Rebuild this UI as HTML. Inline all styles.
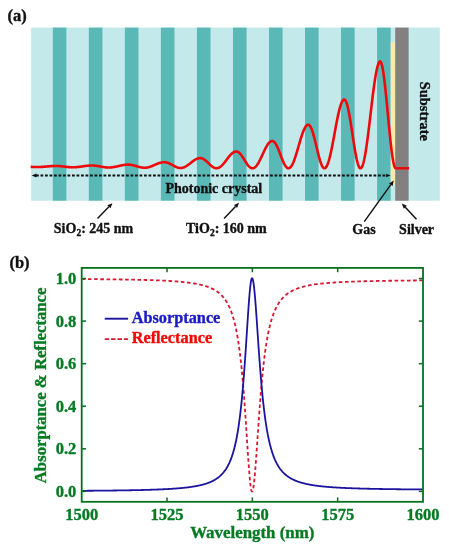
<!DOCTYPE html><html><head><meta charset="utf-8"><style>html,body{margin:0;padding:0;background:#fff;}svg{display:block;}text{font-family:"Liberation Serif","Times New Roman",serif;font-weight:bold;stroke:currentColor;stroke-width:0.35px;}</style></head><body>
<svg width="449" height="550" viewBox="0 0 449 550">
<rect x="0" y="0" width="449" height="550" fill="#fff"/>
<text x="7.6" y="20.7" font-size="16.5" fill="#111" color="#111">(a)</text>
<rect x="31.1" y="27.6" width="408.70" height="173.10" fill="#c3e9eb"/>
<rect x="52.80" y="27.6" width="13.6" height="173.10" fill="#5ab9b7"/>
<rect x="88.83" y="27.6" width="13.6" height="173.10" fill="#5ab9b7"/>
<rect x="124.86" y="27.6" width="13.6" height="173.10" fill="#5ab9b7"/>
<rect x="160.89" y="27.6" width="13.6" height="173.10" fill="#5ab9b7"/>
<rect x="196.92" y="27.6" width="13.6" height="173.10" fill="#5ab9b7"/>
<rect x="232.95" y="27.6" width="13.6" height="173.10" fill="#5ab9b7"/>
<rect x="268.98" y="27.6" width="13.6" height="173.10" fill="#5ab9b7"/>
<rect x="305.01" y="27.6" width="13.6" height="173.10" fill="#5ab9b7"/>
<rect x="341.04" y="27.6" width="13.6" height="173.10" fill="#5ab9b7"/>
<rect x="377.07" y="27.6" width="13.6" height="173.10" fill="#5ab9b7"/>
<rect x="390.75" y="42" width="4.45" height="142.6" fill="#fde7ab"/>
<rect x="395.2" y="27.6" width="13.4" height="173.10" fill="#828080"/>
<text transform="translate(419.7,81.8) rotate(90)" font-size="14.4" fill="#111" color="#111">Substrate</text>
<line x1="36" y1="175.5" x2="386.5" y2="175.5" stroke="#111" stroke-width="1.9" stroke-dasharray="2.8 1.7"/>
<path d="M31.6,175.5 L36.5,173.6 L36.5,177.4 Z" fill="#111"/>
<path d="M390.5,175.5 L386.2,173.7 L386.2,177.3 Z" fill="#111"/>
<text x="165.4" y="192.5" font-size="14" fill="#111" color="#111">Photonic crystal</text>
<path d="M30.70,166.83 L31.20,166.86 L31.70,166.89 L32.20,166.91 L32.70,166.94 L33.20,166.96 L33.70,166.98 L34.20,167.00 L34.70,167.01 L35.20,167.02 L35.70,167.03 L36.20,167.04 L36.70,167.04 L37.20,167.04 L37.70,167.04 L38.20,167.03 L38.70,167.02 L39.20,167.01 L39.70,166.99 L40.20,166.97 L40.70,166.95 L41.20,166.92 L41.70,166.89 L42.20,166.86 L42.70,166.83 L43.20,166.79 L43.70,166.75 L44.20,166.71 L44.70,166.67 L45.20,166.63 L45.70,166.59 L46.20,166.54 L46.70,166.50 L47.20,166.45 L47.70,166.41 L48.20,166.37 L48.70,166.33 L49.20,166.28 L49.70,166.24 L50.20,166.21 L50.70,166.17 L51.20,166.14 L51.70,166.11 L52.20,166.08 L52.70,166.05 L53.20,166.03 L53.70,166.01 L54.20,165.99 L54.70,165.98 L55.20,165.97 L55.70,165.97 L56.20,165.97 L56.70,165.98 L57.20,165.99 L57.70,166.00 L58.20,166.03 L58.70,166.05 L59.20,166.08 L59.70,166.12 L60.20,166.16 L60.70,166.21 L61.20,166.25 L61.70,166.31 L62.20,166.36 L62.70,166.42 L63.20,166.48 L63.70,166.54 L64.20,166.60 L64.70,166.66 L65.20,166.72 L65.70,166.78 L66.20,166.84 L66.70,166.89 L67.20,166.95 L67.70,167.00 L68.20,167.05 L68.70,167.09 L69.20,167.13 L69.70,167.17 L70.20,167.20 L70.70,167.23 L71.20,167.25 L71.70,167.26 L72.20,167.27 L72.70,167.28 L73.20,167.28 L73.70,167.27 L74.20,167.25 L74.70,167.24 L75.20,167.21 L75.70,167.18 L76.20,167.15 L76.70,167.11 L77.20,167.06 L77.70,167.01 L78.20,166.96 L78.70,166.90 L79.20,166.84 L79.70,166.78 L80.20,166.71 L80.70,166.64 L81.20,166.57 L81.70,166.50 L82.20,166.43 L82.70,166.36 L83.20,166.29 L83.70,166.22 L84.20,166.15 L84.70,166.08 L85.20,166.01 L85.70,165.95 L86.20,165.88 L86.70,165.83 L87.20,165.77 L87.70,165.72 L88.20,165.68 L88.70,165.63 L89.20,165.60 L89.70,165.57 L90.20,165.54 L90.70,165.52 L91.20,165.51 L91.70,165.50 L92.20,165.50 L92.70,165.51 L93.20,165.53 L93.70,165.55 L94.20,165.58 L94.70,165.62 L95.20,165.67 L95.70,165.73 L96.20,165.79 L96.70,165.86 L97.20,165.94 L97.70,166.02 L98.20,166.10 L98.70,166.19 L99.20,166.28 L99.70,166.37 L100.20,166.47 L100.70,166.56 L101.20,166.66 L101.70,166.75 L102.20,166.84 L102.70,166.93 L103.20,167.01 L103.70,167.09 L104.20,167.17 L104.70,167.24 L105.20,167.30 L105.70,167.35 L106.20,167.40 L106.70,167.44 L107.20,167.47 L107.70,167.49 L108.20,167.51 L108.70,167.51 L109.20,167.51 L109.70,167.49 L110.20,167.47 L110.70,167.44 L111.20,167.40 L111.70,167.35 L112.20,167.29 L112.70,167.23 L113.20,167.15 L113.70,167.07 L114.20,166.99 L114.70,166.90 L115.20,166.80 L115.70,166.70 L116.20,166.59 L116.70,166.48 L117.20,166.37 L117.70,166.26 L118.20,166.14 L118.70,166.02 L119.20,165.91 L119.70,165.79 L120.20,165.68 L120.70,165.57 L121.20,165.46 L121.70,165.36 L122.20,165.26 L122.70,165.17 L123.20,165.08 L123.70,165.00 L124.20,164.92 L124.70,164.86 L125.20,164.80 L125.70,164.75 L126.20,164.71 L126.70,164.68 L127.20,164.65 L127.70,164.64 L128.20,164.64 L128.70,164.64 L129.20,164.66 L129.70,164.70 L130.20,164.75 L130.70,164.81 L131.20,164.88 L131.70,164.97 L132.20,165.06 L132.70,165.17 L133.20,165.28 L133.70,165.41 L134.20,165.54 L134.70,165.67 L135.20,165.82 L135.70,165.96 L136.20,166.11 L136.70,166.26 L137.20,166.40 L137.70,166.55 L138.20,166.69 L138.70,166.83 L139.20,166.97 L139.70,167.09 L140.20,167.21 L140.70,167.32 L141.20,167.42 L141.70,167.50 L142.20,167.58 L142.70,167.64 L143.20,167.69 L143.70,167.72 L144.20,167.74 L144.70,167.74 L145.20,167.73 L145.70,167.70 L146.20,167.66 L146.70,167.60 L147.20,167.52 L147.70,167.43 L148.20,167.32 L148.70,167.19 L149.20,167.06 L149.70,166.90 L150.20,166.74 L150.70,166.57 L151.20,166.38 L151.70,166.19 L152.20,165.99 L152.70,165.78 L153.20,165.56 L153.70,165.35 L154.20,165.12 L154.70,164.90 L155.20,164.68 L155.70,164.46 L156.20,164.24 L156.70,164.03 L157.20,163.82 L157.70,163.62 L158.20,163.43 L158.70,163.25 L159.20,163.07 L159.70,162.91 L160.20,162.77 L160.70,162.64 L161.20,162.52 L161.70,162.42 L162.20,162.33 L162.70,162.26 L163.20,162.21 L163.70,162.18 L164.20,162.17 L164.70,162.18 L165.20,162.22 L165.70,162.29 L166.20,162.38 L166.70,162.49 L167.20,162.63 L167.70,162.79 L168.20,162.97 L168.70,163.17 L169.20,163.38 L169.70,163.61 L170.20,163.86 L170.70,164.12 L171.20,164.38 L171.70,164.66 L172.20,164.93 L172.70,165.21 L173.20,165.49 L173.70,165.76 L174.20,166.03 L174.70,166.29 L175.20,166.54 L175.70,166.77 L176.20,166.99 L176.70,167.20 L177.20,167.38 L177.70,167.54 L178.20,167.68 L178.70,167.79 L179.20,167.88 L179.70,167.94 L180.20,167.97 L180.70,167.98 L181.20,167.95 L181.70,167.90 L182.20,167.82 L182.70,167.71 L183.20,167.57 L183.70,167.40 L184.20,167.20 L184.70,166.98 L185.20,166.73 L185.70,166.46 L186.20,166.17 L186.70,165.86 L187.20,165.53 L187.70,165.19 L188.20,164.83 L188.70,164.46 L189.20,164.08 L189.70,163.70 L190.20,163.30 L190.70,162.91 L191.20,162.52 L191.70,162.13 L192.20,161.74 L192.70,161.37 L193.20,161.00 L193.70,160.65 L194.20,160.31 L194.70,159.99 L195.20,159.69 L195.70,159.41 L196.20,159.15 L196.70,158.92 L197.20,158.71 L197.70,158.53 L198.20,158.38 L198.70,158.27 L199.20,158.18 L199.70,158.12 L200.20,158.10 L200.70,158.12 L201.20,158.19 L201.70,158.30 L202.20,158.46 L202.70,158.66 L203.20,158.90 L203.70,159.18 L204.20,159.49 L204.70,159.84 L205.20,160.22 L205.70,160.63 L206.20,161.06 L206.70,161.50 L207.20,161.97 L207.70,162.45 L208.20,162.93 L208.70,163.41 L209.20,163.90 L209.70,164.38 L210.20,164.84 L210.70,165.29 L211.20,165.72 L211.70,166.13 L212.20,166.51 L212.70,166.86 L213.20,167.18 L213.70,167.46 L214.20,167.70 L214.70,167.89 L215.20,168.04 L215.70,168.15 L216.20,168.20 L216.70,168.21 L217.20,168.17 L217.70,168.08 L218.20,167.93 L218.70,167.74 L219.20,167.50 L219.70,167.22 L220.20,166.88 L220.70,166.51 L221.20,166.09 L221.70,165.63 L222.20,165.14 L222.70,164.61 L223.20,164.06 L223.70,163.47 L224.20,162.87 L224.70,162.24 L225.20,161.60 L225.70,160.95 L226.20,160.29 L226.70,159.63 L227.20,158.96 L227.70,158.31 L228.20,157.66 L228.70,157.02 L229.20,156.41 L229.70,155.81 L230.20,155.24 L230.70,154.70 L231.20,154.18 L231.70,153.71 L232.20,153.27 L232.70,152.88 L233.20,152.53 L233.70,152.23 L234.20,151.98 L234.70,151.78 L235.20,151.63 L235.70,151.53 L236.20,151.49 L236.70,151.53 L237.20,151.64 L237.70,151.82 L238.20,152.08 L238.70,152.41 L239.20,152.81 L239.70,153.28 L240.20,153.80 L240.70,154.38 L241.20,155.01 L241.70,155.69 L242.20,156.41 L242.70,157.16 L243.20,157.93 L243.70,158.73 L244.20,159.53 L244.70,160.34 L245.20,161.15 L245.70,161.95 L246.20,162.72 L246.70,163.47 L247.20,164.19 L247.70,164.87 L248.20,165.50 L248.70,166.08 L249.20,166.61 L249.70,167.07 L250.20,167.46 L250.70,167.78 L251.20,168.03 L251.70,168.20 L252.20,168.29 L252.70,168.29 L253.20,168.22 L253.70,168.06 L254.20,167.83 L254.70,167.51 L255.20,167.11 L255.70,166.64 L256.20,166.09 L256.70,165.47 L257.20,164.79 L257.70,164.04 L258.20,163.23 L258.70,162.37 L259.20,161.45 L259.70,160.50 L260.20,159.51 L260.70,158.48 L261.20,157.43 L261.70,156.37 L262.20,155.29 L262.70,154.20 L263.20,153.12 L263.70,152.05 L264.20,150.99 L264.70,149.95 L265.20,148.94 L265.70,147.97 L266.20,147.04 L266.70,146.16 L267.20,145.33 L267.70,144.56 L268.20,143.86 L268.70,143.22 L269.20,142.66 L269.70,142.17 L270.20,141.76 L270.70,141.44 L271.20,141.20 L271.70,141.05 L272.20,140.99 L272.70,141.05 L273.20,141.23 L273.70,141.53 L274.20,141.95 L274.70,142.49 L275.20,143.14 L275.70,143.90 L276.20,144.75 L276.70,145.70 L277.20,146.73 L277.70,147.83 L278.20,149.00 L278.70,150.21 L279.20,151.47 L279.70,152.76 L280.20,154.07 L280.70,155.39 L281.20,156.70 L281.70,157.99 L282.20,159.25 L282.70,160.47 L283.20,161.64 L283.70,162.74 L284.20,163.76 L284.70,164.71 L285.20,165.56 L285.70,166.30 L286.20,166.94 L286.70,167.46 L287.20,167.86 L287.70,168.13 L288.20,168.28 L288.70,168.29 L289.20,168.17 L289.70,167.92 L290.20,167.54 L290.70,167.03 L291.20,166.40 L291.70,165.64 L292.20,164.76 L292.70,163.78 L293.20,162.68 L293.70,161.48 L294.20,160.19 L294.70,158.81 L295.20,157.35 L295.70,155.82 L296.20,154.23 L296.70,152.60 L297.20,150.92 L297.70,149.21 L298.20,147.49 L298.70,145.75 L299.20,144.02 L299.70,142.31 L300.20,140.62 L300.70,138.96 L301.20,137.36 L301.70,135.81 L302.20,134.32 L302.70,132.92 L303.20,131.59 L303.70,130.37 L304.20,129.24 L304.70,128.23 L305.20,127.33 L305.70,126.56 L306.20,125.91 L306.70,125.39 L307.20,125.02 L307.70,124.78 L308.20,124.68 L308.70,124.78 L309.20,125.07 L309.70,125.56 L310.20,126.23 L310.70,127.10 L311.20,128.14 L311.70,129.35 L312.20,130.71 L312.70,132.22 L313.20,133.87 L313.70,135.63 L314.20,137.49 L314.70,139.43 L315.20,141.45 L315.70,143.51 L316.20,145.60 L316.70,147.70 L317.20,149.79 L317.70,151.85 L318.20,153.86 L318.70,155.81 L319.20,157.67 L319.70,159.43 L320.20,161.06 L320.70,162.57 L321.20,163.92 L321.70,165.11 L322.20,166.13 L322.70,166.96 L323.20,167.60 L323.70,168.03 L324.20,168.26 L324.70,168.28 L325.20,168.10 L325.70,167.70 L326.20,167.10 L326.70,166.30 L327.20,165.29 L327.70,164.10 L328.20,162.71 L328.70,161.15 L329.20,159.41 L329.70,157.52 L330.20,155.48 L330.70,153.30 L331.20,150.99 L331.70,148.58 L332.20,146.08 L332.70,143.49 L333.20,140.84 L333.70,138.15 L334.20,135.42 L334.70,132.69 L335.20,129.96 L335.70,127.25 L336.20,124.59 L336.70,121.98 L337.20,119.44 L337.70,116.99 L338.20,114.65 L338.70,112.43 L339.20,110.35 L339.70,108.42 L340.20,106.64 L340.70,105.05 L341.20,103.63 L341.70,102.41 L342.20,101.40 L342.70,100.59 L343.20,99.99 L343.70,99.62 L344.20,99.47 L344.70,99.63 L345.20,100.09 L345.70,100.87 L346.20,101.94 L346.70,103.30 L347.20,104.95 L347.70,106.86 L348.20,109.02 L348.70,111.40 L349.20,114.00 L349.70,116.78 L350.20,119.72 L350.70,122.79 L351.20,125.96 L351.70,129.21 L352.20,132.51 L352.70,135.82 L353.20,139.12 L353.70,142.37 L354.20,145.54 L354.70,148.61 L355.20,151.55 L355.70,154.32 L356.20,156.90 L356.70,159.27 L357.20,161.40 L357.70,163.28 L358.20,164.88 L358.70,166.19 L359.20,167.19 L359.70,167.88 L360.20,168.24 L360.70,168.27 L361.20,167.98 L361.70,167.37 L362.20,166.43 L362.70,165.18 L363.20,163.62 L363.70,161.75 L364.20,159.59 L364.70,157.16 L365.20,154.46 L365.70,151.51 L366.20,148.32 L366.70,144.93 L367.20,141.34 L367.70,137.59 L368.20,133.69 L368.70,129.66 L369.20,125.54 L369.70,121.35 L370.20,117.11 L370.70,112.86 L371.20,108.61 L371.70,104.40 L372.20,100.25 L372.70,96.19 L373.20,92.25 L373.70,88.44 L374.20,84.81 L374.70,81.36 L375.20,78.12 L375.70,75.12 L376.20,72.37 L376.70,69.89 L377.20,67.69 L377.70,65.80 L378.20,64.23 L378.70,62.97 L379.20,62.06 L379.70,61.48 L380.20,61.34 L380.70,61.82 L381.20,62.82 L381.70,64.33 L382.20,66.34 L382.70,68.83 L383.20,71.77 L383.70,75.14 L384.20,78.90 L384.70,83.01 L385.20,87.44 L385.70,92.14 L386.20,97.06 L386.70,102.16 L387.20,107.38 L387.70,112.67 L388.20,117.99 L388.70,123.27 L389.20,128.48 L389.70,133.54 L390.20,138.42 L390.70,143.07 L391.20,147.44 L391.70,151.49 L392.20,155.17 L392.70,158.45 L393.20,161.31 L393.70,163.70 L394.20,165.62 L394.70,167.03 L395.20,167.92 L395.70,168.29 L396.20,168.30 L396.70,168.30 L397.20,168.30 L397.70,168.30 L398.20,168.30 L398.70,168.30 L399.20,168.30 L399.70,168.30 L400.20,168.30 L400.70,168.30 L401.20,168.30 L401.70,168.30 L402.20,168.30 L402.70,168.30 L403.20,168.30 L403.70,168.30 L404.20,168.30 L404.70,168.30 L405.20,168.30 L405.70,168.30 L406.20,168.30 L406.70,168.30 L407.20,168.30 L407.70,168.30 L408.20,168.30 L408.70,168.30 L409.10,168.30" fill="none" stroke="#ee0a0a" stroke-width="2.6" stroke-linejoin="round" stroke-linecap="butt"/>
<line x1="97.5" y1="218.4" x2="108.9" y2="206.8" stroke="#111" stroke-width="1.45"/><path d="M112.4,203.2 L110.5,208.3 L107.3,205.2 Z" fill="#111"/>
<line x1="224.1" y1="218.4" x2="235.5" y2="206.4" stroke="#111" stroke-width="1.45"/><path d="M239.0,202.8 L237.1,207.9 L234.0,204.9 Z" fill="#111"/>
<line x1="364.3" y1="221.7" x2="390.8" y2="184.7" stroke="#111" stroke-width="1.45"/><path d="M393.7,180.6 L392.6,185.9 L389.0,183.4 Z" fill="#111"/>
<line x1="416.5" y1="219.3" x2="405.3" y2="207.2" stroke="#111" stroke-width="1.45"/><path d="M401.9,203.5 L406.9,205.7 L403.7,208.7 Z" fill="#111"/>
<text x="53.8" y="233.0" font-size="14" fill="#111" color="#111">SiO<tspan font-size="9.5" dy="3">2</tspan><tspan dy="-3">: 245 nm</tspan></text>
<text x="186" y="233.0" font-size="14" fill="#111" color="#111">TiO<tspan font-size="9.5" dy="3">2</tspan><tspan dy="-3">: 160 nm</tspan></text>
<text x="352.3" y="233.7" font-size="14" fill="#111" color="#111">Gas</text>
<text x="399.1" y="233.7" font-size="14" fill="#111" color="#111">Silver</text>
<text x="9.4" y="267.7" font-size="16.5" fill="#111" color="#111">(b)</text>
<defs><clipPath id="cb"><rect x="82.5" y="268.5" width="340" height="232.5"/></clipPath></defs>
<path d="M81.70,279.08 L81.98,279.09 L82.27,279.09 L82.55,279.09 L82.84,279.09 L83.12,279.09 L83.41,279.10 L83.69,279.10 L83.98,279.10 L84.26,279.10 L84.54,279.10 L84.83,279.11 L85.11,279.11 L85.40,279.11 L85.68,279.11 L85.97,279.12 L86.25,279.12 L86.54,279.12 L86.82,279.12 L87.10,279.12 L87.39,279.13 L87.67,279.13 L87.96,279.13 L88.24,279.13 L88.53,279.13 L88.81,279.14 L89.09,279.14 L89.38,279.14 L89.66,279.14 L89.95,279.15 L90.23,279.15 L90.52,279.15 L90.80,279.15 L91.09,279.15 L91.37,279.16 L91.65,279.16 L91.94,279.16 L92.22,279.16 L92.51,279.17 L92.79,279.17 L93.08,279.17 L93.36,279.17 L93.65,279.18 L93.93,279.18 L94.21,279.18 L94.50,279.18 L94.78,279.19 L95.07,279.19 L95.35,279.19 L95.64,279.19 L95.92,279.20 L96.21,279.20 L96.49,279.20 L96.77,279.20 L97.06,279.21 L97.34,279.21 L97.63,279.21 L97.91,279.21 L98.20,279.22 L98.48,279.22 L98.77,279.22 L99.05,279.22 L99.33,279.23 L99.62,279.23 L99.90,279.23 L100.19,279.24 L100.47,279.24 L100.76,279.24 L101.04,279.24 L101.32,279.25 L101.61,279.25 L101.89,279.25 L102.18,279.25 L102.46,279.26 L102.75,279.26 L103.03,279.26 L103.32,279.27 L103.60,279.27 L103.88,279.27 L104.17,279.28 L104.45,279.28 L104.74,279.28 L105.02,279.28 L105.31,279.29 L105.59,279.29 L105.88,279.29 L106.16,279.30 L106.44,279.30 L106.73,279.30 L107.01,279.31 L107.30,279.31 L107.58,279.31 L107.87,279.32 L108.15,279.32 L108.44,279.32 L108.72,279.33 L109.00,279.33 L109.29,279.33 L109.57,279.34 L109.86,279.34 L110.14,279.34 L110.43,279.35 L110.71,279.35 L110.99,279.35 L111.28,279.36 L111.56,279.36 L111.85,279.36 L112.13,279.37 L112.42,279.37 L112.70,279.37 L112.99,279.38 L113.27,279.38 L113.55,279.38 L113.84,279.39 L114.12,279.39 L114.41,279.39 L114.69,279.40 L114.98,279.40 L115.26,279.41 L115.55,279.41 L115.83,279.41 L116.11,279.42 L116.40,279.42 L116.68,279.42 L116.97,279.43 L117.25,279.43 L117.54,279.44 L117.82,279.44 L118.11,279.44 L118.39,279.45 L118.67,279.45 L118.96,279.46 L119.24,279.46 L119.53,279.46 L119.81,279.47 L120.10,279.47 L120.38,279.48 L120.67,279.48 L120.95,279.49 L121.23,279.49 L121.52,279.49 L121.80,279.50 L122.09,279.50 L122.37,279.51 L122.66,279.51 L122.94,279.52 L123.22,279.52 L123.51,279.52 L123.79,279.53 L124.08,279.53 L124.36,279.54 L124.65,279.54 L124.93,279.55 L125.22,279.55 L125.50,279.56 L125.78,279.56 L126.07,279.57 L126.35,279.57 L126.64,279.58 L126.92,279.58 L127.21,279.59 L127.49,279.59 L127.78,279.60 L128.06,279.60 L128.34,279.61 L128.63,279.61 L128.91,279.62 L129.20,279.62 L129.48,279.63 L129.77,279.63 L130.05,279.64 L130.34,279.64 L130.62,279.65 L130.90,279.65 L131.19,279.66 L131.47,279.66 L131.76,279.67 L132.04,279.67 L132.33,279.68 L132.61,279.69 L132.90,279.69 L133.18,279.70 L133.46,279.70 L133.75,279.71 L134.03,279.71 L134.32,279.72 L134.60,279.73 L134.89,279.73 L135.17,279.74 L135.45,279.74 L135.74,279.75 L136.02,279.76 L136.31,279.76 L136.59,279.77 L136.88,279.78 L137.16,279.78 L137.45,279.79 L137.73,279.79 L138.01,279.80 L138.30,279.81 L138.58,279.81 L138.87,279.82 L139.15,279.83 L139.44,279.83 L139.72,279.84 L140.01,279.85 L140.29,279.85 L140.57,279.86 L140.86,279.87 L141.14,279.87 L141.43,279.88 L141.71,279.89 L142.00,279.90 L142.28,279.90 L142.57,279.91 L142.85,279.92 L143.13,279.92 L143.42,279.93 L143.70,279.94 L143.99,279.95 L144.27,279.95 L144.56,279.96 L144.84,279.97 L145.12,279.98 L145.41,279.99 L145.69,279.99 L145.98,280.00 L146.26,280.01 L146.55,280.02 L146.83,280.03 L147.12,280.03 L147.40,280.04 L147.68,280.05 L147.97,280.06 L148.25,280.07 L148.54,280.08 L148.82,280.08 L149.11,280.09 L149.39,280.10 L149.68,280.11 L149.96,280.12 L150.24,280.13 L150.53,280.14 L150.81,280.15 L151.10,280.16 L151.38,280.17 L151.67,280.18 L151.95,280.18 L152.24,280.19 L152.52,280.20 L152.80,280.21 L153.09,280.22 L153.37,280.23 L153.66,280.24 L153.94,280.25 L154.23,280.26 L154.51,280.27 L154.80,280.28 L155.08,280.29 L155.36,280.30 L155.65,280.32 L155.93,280.33 L156.22,280.34 L156.50,280.35 L156.79,280.36 L157.07,280.37 L157.35,280.38 L157.64,280.39 L157.92,280.40 L158.21,280.41 L158.49,280.43 L158.78,280.44 L159.06,280.45 L159.35,280.46 L159.63,280.47 L159.91,280.49 L160.20,280.50 L160.48,280.51 L160.77,280.52 L161.05,280.53 L161.34,280.55 L161.62,280.56 L161.91,280.57 L162.19,280.59 L162.47,280.60 L162.76,280.61 L163.04,280.63 L163.33,280.64 L163.61,280.65 L163.90,280.67 L164.18,280.68 L164.47,280.69 L164.75,280.71 L165.03,280.72 L165.32,280.74 L165.60,280.75 L165.89,280.77 L166.17,280.78 L166.46,280.80 L166.74,280.81 L167.03,280.83 L167.31,280.84 L167.59,280.86 L167.88,280.87 L168.16,280.89 L168.45,280.91 L168.73,280.92 L169.02,280.94 L169.30,280.96 L169.58,280.97 L169.87,280.99 L170.15,281.01 L170.44,281.02 L170.72,281.04 L171.01,281.06 L171.29,281.08 L171.58,281.09 L171.86,281.11 L172.14,281.13 L172.43,281.15 L172.71,281.17 L173.00,281.19 L173.28,281.21 L173.57,281.23 L173.85,281.25 L174.14,281.27 L174.42,281.29 L174.70,281.31 L174.99,281.33 L175.27,281.35 L175.56,281.37 L175.84,281.39 L176.13,281.41 L176.41,281.43 L176.70,281.45 L176.98,281.48 L177.26,281.50 L177.55,281.52 L177.83,281.54 L178.12,281.57 L178.40,281.59 L178.69,281.61 L178.97,281.64 L179.25,281.66 L179.54,281.69 L179.82,281.71 L180.11,281.74 L180.39,281.76 L180.68,281.79 L180.96,281.81 L181.25,281.84 L181.53,281.87 L181.81,281.89 L182.10,281.92 L182.38,281.95 L182.67,281.98 L182.95,282.00 L183.24,282.03 L183.52,282.06 L183.81,282.09 L184.09,282.12 L184.37,282.15 L184.66,282.18 L184.94,282.21 L185.23,282.24 L185.51,282.27 L185.80,282.31 L186.08,282.34 L186.37,282.37 L186.65,282.40 L186.93,282.44 L187.22,282.47 L187.50,282.51 L187.79,282.54 L188.07,282.58 L188.36,282.61 L188.64,282.65 L188.93,282.68 L189.21,282.72 L189.49,282.76 L189.78,282.80 L190.06,282.84 L190.35,282.88 L190.63,282.92 L190.92,282.96 L191.20,283.00 L191.48,283.04 L191.77,283.08 L192.05,283.12 L192.34,283.17 L192.62,283.21 L192.91,283.25 L193.19,283.30 L193.48,283.34 L193.76,283.39 L194.04,283.44 L194.33,283.49 L194.61,283.53 L194.90,283.58 L195.18,283.63 L195.47,283.68 L195.75,283.73 L196.04,283.79 L196.32,283.84 L196.60,283.89 L196.89,283.95 L197.17,284.00 L197.46,284.06 L197.74,284.11 L198.03,284.17 L198.31,284.23 L198.60,284.29 L198.88,284.35 L199.16,284.41 L199.45,284.47 L199.73,284.54 L200.02,284.60 L200.30,284.67 L200.59,284.73 L200.87,284.80 L201.16,284.87 L201.44,284.94 L201.72,285.01 L202.01,285.08 L202.29,285.15 L202.58,285.23 L202.86,285.30 L203.15,285.38 L203.43,285.46 L203.71,285.54 L204.00,285.62 L204.28,285.70 L204.57,285.79 L204.85,285.87 L205.14,285.96 L205.42,286.05 L205.71,286.13 L205.99,286.23 L206.27,286.32 L206.56,286.41 L206.84,286.51 L207.13,286.61 L207.41,286.71 L207.70,286.81 L207.98,286.91 L208.27,287.02 L208.55,287.12 L208.83,287.23 L209.12,287.34 L209.40,287.46 L209.69,287.57 L209.97,287.69 L210.26,287.81 L210.54,287.93 L210.83,288.06 L211.11,288.18 L211.39,288.31 L211.68,288.45 L211.96,288.58 L212.25,288.72 L212.53,288.86 L212.82,289.00 L213.10,289.15 L213.38,289.30 L213.67,289.45 L213.95,289.61 L214.24,289.77 L214.52,289.93 L214.81,290.09 L215.09,290.26 L215.38,290.44 L215.66,290.61 L215.94,290.79 L216.23,290.98 L216.51,291.17 L216.80,291.36 L217.08,291.56 L217.37,291.76 L217.65,291.96 L217.94,292.17 L218.22,292.39 L218.50,292.61 L218.79,292.84 L219.07,293.07 L219.36,293.30 L219.64,293.55 L219.93,293.80 L220.21,294.05 L220.50,294.31 L220.78,294.58 L221.06,294.85 L221.35,295.13 L221.63,295.42 L221.92,295.71 L222.20,296.02 L222.49,296.33 L222.77,296.64 L223.06,296.97 L223.34,297.31 L223.62,297.65 L223.91,298.00 L224.19,298.37 L224.48,298.74 L224.76,299.12 L225.05,299.52 L225.33,299.92 L225.61,300.34 L225.90,300.76 L226.18,301.20 L226.47,301.66 L226.75,302.12 L227.04,302.60 L227.32,303.09 L227.61,303.60 L227.89,304.12 L228.17,304.66 L228.46,305.22 L228.74,305.79 L229.03,306.38 L229.31,306.98 L229.60,307.61 L229.88,308.26 L230.17,308.92 L230.45,309.61 L230.73,310.32 L231.02,311.06 L231.30,311.81 L231.59,312.60 L231.87,313.40 L232.16,314.24 L232.44,315.10 L232.73,316.00 L233.01,316.92 L233.29,317.88 L233.58,318.87 L233.86,319.89 L234.15,320.95 L234.43,322.05 L234.72,323.19 L235.00,324.36 L235.29,325.59 L235.57,326.85 L235.85,328.16 L236.14,329.52 L236.42,330.93 L236.71,332.40 L236.99,333.92 L237.28,335.49 L237.56,337.13 L237.84,338.82 L238.13,340.59 L238.41,342.41 L238.70,344.31 L238.98,346.28 L239.27,348.33 L239.55,350.45 L239.84,352.66 L240.12,354.95 L240.40,357.33 L240.69,359.79 L240.97,362.35 L241.26,365.00 L241.54,367.76 L241.83,370.61 L242.11,373.56 L242.40,376.62 L242.68,379.78 L242.96,383.05 L243.25,386.43 L243.53,389.92 L243.82,393.51 L244.10,397.21 L244.39,401.01 L244.67,404.92 L244.96,408.91 L245.24,413.00 L245.52,417.17 L245.81,421.41 L246.09,425.71 L246.38,430.06 L246.66,434.44 L246.95,438.84 L247.23,443.24 L247.51,447.62 L247.80,451.94 L248.08,456.20 L248.37,460.35 L248.65,464.38 L248.94,468.24 L249.22,471.92 L249.51,475.37 L249.79,478.56 L250.07,481.47 L250.36,484.07 L250.64,486.32 L250.93,488.20 L251.21,489.69 L251.50,490.78 L251.78,491.40 L252.07,491.40 L252.35,491.40 L252.63,490.95 L252.92,490.01 L253.20,488.70 L253.49,487.02 L253.77,485.01 L254.06,482.68 L254.34,480.05 L254.63,477.14 L254.91,473.99 L255.19,470.63 L255.48,467.07 L255.76,463.35 L256.05,459.49 L256.33,455.52 L256.62,451.47 L256.90,447.35 L257.19,443.19 L257.47,439.02 L257.75,434.84 L258.04,430.67 L258.32,426.54 L258.61,422.45 L258.89,418.41 L259.18,414.44 L259.46,410.54 L259.74,406.71 L260.03,402.98 L260.31,399.33 L260.60,395.77 L260.88,392.31 L261.17,388.94 L261.45,385.68 L261.74,382.51 L262.02,379.43 L262.30,376.46 L262.59,373.58 L262.87,370.79 L263.16,368.10 L263.44,365.49 L263.73,362.98 L264.01,360.55 L264.30,358.21 L264.58,355.95 L264.86,353.76 L265.15,351.66 L265.43,349.62 L265.72,347.66 L266.00,345.77 L266.29,343.95 L266.57,342.19 L266.86,340.49 L267.14,338.85 L267.42,337.27 L267.71,335.74 L267.99,334.27 L268.28,332.85 L268.56,331.47 L268.85,330.15 L269.13,328.87 L269.42,327.63 L269.70,326.44 L269.98,325.28 L270.27,324.17 L270.55,323.09 L270.84,322.05 L271.12,321.04 L271.41,320.06 L271.69,319.12 L271.97,318.21 L272.26,317.32 L272.54,316.47 L272.83,315.64 L273.11,314.84 L273.40,314.06 L273.68,313.31 L273.97,312.58 L274.25,311.87 L274.53,311.18 L274.82,310.52 L275.10,309.87 L275.39,309.24 L275.67,308.64 L275.96,308.05 L276.24,307.47 L276.53,306.92 L276.81,306.37 L277.09,305.85 L277.38,305.34 L277.66,304.84 L277.95,304.36 L278.23,303.89 L278.52,303.43 L278.80,302.99 L279.09,302.56 L279.37,302.14 L279.65,301.73 L279.94,301.33 L280.22,300.94 L280.51,300.56 L280.79,300.19 L281.08,299.83 L281.36,299.48 L281.64,299.14 L281.93,298.81 L282.21,298.49 L282.50,298.17 L282.78,297.86 L283.07,297.56 L283.35,297.26 L283.64,296.98 L283.92,296.70 L284.20,296.42 L284.49,296.16 L284.77,295.90 L285.06,295.64 L285.34,295.39 L285.63,295.15 L285.91,294.91 L286.20,294.68 L286.48,294.45 L286.76,294.23 L287.05,294.01 L287.33,293.80 L287.62,293.59 L287.90,293.39 L288.19,293.19 L288.47,293.00 L288.76,292.80 L289.04,292.62 L289.32,292.44 L289.61,292.26 L289.89,292.08 L290.18,291.91 L290.46,291.74 L290.75,291.58 L291.03,291.42 L291.32,291.26 L291.60,291.10 L291.88,290.95 L292.17,290.80 L292.45,290.65 L292.74,290.51 L293.02,290.37 L293.31,290.23 L293.59,290.10 L293.87,289.97 L294.16,289.84 L294.44,289.71 L294.73,289.58 L295.01,289.46 L295.30,289.34 L295.58,289.22 L295.87,289.10 L296.15,288.99 L296.43,288.88 L296.72,288.77 L297.00,288.66 L297.29,288.55 L297.57,288.45 L297.86,288.35 L298.14,288.24 L298.43,288.15 L298.71,288.05 L298.99,287.95 L299.28,287.86 L299.56,287.77 L299.85,287.67 L300.13,287.58 L300.42,287.50 L300.70,287.41 L300.99,287.33 L301.27,287.24 L301.55,287.16 L301.84,287.08 L302.12,287.00 L302.41,286.92 L302.69,286.84 L302.98,286.77 L303.26,286.69 L303.55,286.62 L303.83,286.55 L304.11,286.48 L304.40,286.41 L304.68,286.34 L304.97,286.27 L305.25,286.20 L305.54,286.14 L305.82,286.07 L306.10,286.01 L306.39,285.94 L306.67,285.88 L306.96,285.82 L307.24,285.76 L307.53,285.70 L307.81,285.64 L308.10,285.58 L308.38,285.53 L308.66,285.47 L308.95,285.42 L309.23,285.36 L309.52,285.31 L309.80,285.26 L310.09,285.20 L310.37,285.15 L310.66,285.10 L310.94,285.05 L311.22,285.00 L311.51,284.95 L311.79,284.91 L312.08,284.86 L312.36,284.81 L312.65,284.77 L312.93,284.72 L313.22,284.68 L313.50,284.63 L313.78,284.59 L314.07,284.55 L314.35,284.50 L314.64,284.46 L314.92,284.42 L315.21,284.38 L315.49,284.34 L315.77,284.30 L316.06,284.26 L316.34,284.22 L316.63,284.18 L316.91,284.15 L317.20,284.11 L317.48,284.07 L317.77,284.03 L318.05,284.00 L318.33,283.96 L318.62,283.93 L318.90,283.89 L319.19,283.86 L319.47,283.83 L319.76,283.79 L320.04,283.76 L320.33,283.73 L320.61,283.70 L320.89,283.66 L321.18,283.63 L321.46,283.60 L321.75,283.57 L322.03,283.54 L322.32,283.51 L322.60,283.48 L322.89,283.45 L323.17,283.42 L323.45,283.40 L323.74,283.37 L324.02,283.34 L324.31,283.31 L324.59,283.28 L324.88,283.26 L325.16,283.23 L325.45,283.20 L325.73,283.18 L326.01,283.15 L326.30,283.13 L326.58,283.10 L326.87,283.08 L327.15,283.05 L327.44,283.03 L327.72,283.00 L328.00,282.98 L328.29,282.96 L328.57,282.93 L328.86,282.91 L329.14,282.89 L329.43,282.87 L329.71,282.84 L330.00,282.82 L330.28,282.80 L330.56,282.78 L330.85,282.76 L331.13,282.74 L331.42,282.72 L331.70,282.69 L331.99,282.67 L332.27,282.65 L332.56,282.63 L332.84,282.61 L333.12,282.59 L333.41,282.58 L333.69,282.56 L333.98,282.54 L334.26,282.52 L334.55,282.50 L334.83,282.48 L335.12,282.46 L335.40,282.44 L335.68,282.43 L335.97,282.41 L336.25,282.39 L336.54,282.37 L336.82,282.36 L337.11,282.34 L337.39,282.32 L337.68,282.31 L337.96,282.29 L338.24,282.27 L338.53,282.26 L338.81,282.24 L339.10,282.23 L339.38,282.21 L339.67,282.19 L339.95,282.18 L340.23,282.16 L340.52,282.15 L340.80,282.13 L341.09,282.12 L341.37,282.10 L341.66,282.09 L341.94,282.07 L342.23,282.06 L342.51,282.05 L342.79,282.03 L343.08,282.02 L343.36,282.00 L343.65,281.99 L343.93,281.98 L344.22,281.96 L344.50,281.95 L344.79,281.94 L345.07,281.92 L345.35,281.91 L345.64,281.90 L345.92,281.89 L346.21,281.87 L346.49,281.86 L346.78,281.85 L347.06,281.84 L347.35,281.82 L347.63,281.81 L347.91,281.80 L348.20,281.79 L348.48,281.78 L348.77,281.76 L349.05,281.75 L349.34,281.74 L349.62,281.73 L349.90,281.72 L350.19,281.71 L350.47,281.70 L350.76,281.69 L351.04,281.68 L351.33,281.66 L351.61,281.65 L351.90,281.64 L352.18,281.63 L352.46,281.62 L352.75,281.61 L353.03,281.60 L353.32,281.59 L353.60,281.58 L353.89,281.57 L354.17,281.56 L354.46,281.55 L354.74,281.54 L355.02,281.53 L355.31,281.52 L355.59,281.51 L355.88,281.50 L356.16,281.49 L356.45,281.49 L356.73,281.48 L357.02,281.47 L357.30,281.46 L357.58,281.45 L357.87,281.44 L358.15,281.43 L358.44,281.42 L358.72,281.41 L359.01,281.41 L359.29,281.40 L359.58,281.39 L359.86,281.38 L360.14,281.37 L360.43,281.36 L360.71,281.35 L361.00,281.35 L361.28,281.34 L361.57,281.33 L361.85,281.32 L362.13,281.31 L362.42,281.31 L362.70,281.30 L362.99,281.29 L363.27,281.28 L363.56,281.28 L363.84,281.27 L364.13,281.26 L364.41,281.25 L364.69,281.25 L364.98,281.24 L365.26,281.23 L365.55,281.22 L365.83,281.22 L366.12,281.21 L366.40,281.20 L366.69,281.20 L366.97,281.19 L367.25,281.18 L367.54,281.17 L367.82,281.17 L368.11,281.16 L368.39,281.15 L368.68,281.15 L368.96,281.14 L369.25,281.13 L369.53,281.13 L369.81,281.12 L370.10,281.12 L370.38,281.11 L370.67,281.10 L370.95,281.10 L371.24,281.09 L371.52,281.08 L371.81,281.08 L372.09,281.07 L372.37,281.07 L372.66,281.06 L372.94,281.05 L373.23,281.05 L373.51,281.04 L373.80,281.04 L374.08,281.03 L374.36,281.02 L374.65,281.02 L374.93,281.01 L375.22,281.01 L375.50,281.00 L375.79,281.00 L376.07,280.99 L376.36,280.98 L376.64,280.98 L376.92,280.97 L377.21,280.97 L377.49,280.96 L377.78,280.96 L378.06,280.95 L378.35,280.95 L378.63,280.94 L378.92,280.94 L379.20,280.93 L379.48,280.93 L379.77,280.92 L380.05,280.92 L380.34,280.91 L380.62,280.91 L380.91,280.90 L381.19,280.90 L381.48,280.89 L381.76,280.89 L382.04,280.88 L382.33,280.88 L382.61,280.87 L382.90,280.87 L383.18,280.86 L383.47,280.86 L383.75,280.85 L384.03,280.85 L384.32,280.84 L384.60,280.84 L384.89,280.84 L385.17,280.83 L385.46,280.83 L385.74,280.82 L386.03,280.82 L386.31,280.81 L386.59,280.81 L386.88,280.80 L387.16,280.80 L387.45,280.80 L387.73,280.79 L388.02,280.79 L388.30,280.78 L388.59,280.78 L388.87,280.77 L389.15,280.77 L389.44,280.77 L389.72,280.76 L390.01,280.76 L390.29,280.75 L390.58,280.75 L390.86,280.75 L391.15,280.74 L391.43,280.74 L391.71,280.73 L392.00,280.73 L392.28,280.73 L392.57,280.72 L392.85,280.72 L393.14,280.72 L393.42,280.71 L393.71,280.71 L393.99,280.70 L394.27,280.70 L394.56,280.70 L394.84,280.69 L395.13,280.69 L395.41,280.69 L395.70,280.68 L395.98,280.68 L396.26,280.68 L396.55,280.67 L396.83,280.67 L397.12,280.67 L397.40,280.66 L397.69,280.66 L397.97,280.65 L398.26,280.65 L398.54,280.65 L398.82,280.64 L399.11,280.64 L399.39,280.64 L399.68,280.63 L399.96,280.63 L400.25,280.63 L400.53,280.63 L400.82,280.62 L401.10,280.62 L401.38,280.62 L401.67,280.61 L401.95,280.61 L402.24,280.61 L402.52,280.60 L402.81,280.60 L403.09,280.60 L403.38,280.59 L403.66,280.59 L403.94,280.59 L404.23,280.58 L404.51,280.58 L404.80,280.58 L405.08,280.58 L405.37,280.57 L405.65,280.57 L405.94,280.57 L406.22,280.56 L406.50,280.56 L406.79,280.56 L407.07,280.56 L407.36,280.55 L407.64,280.55 L407.93,280.55 L408.21,280.54 L408.49,280.54 L408.78,280.54 L409.06,280.54 L409.35,280.53 L409.63,280.53 L409.92,280.53 L410.20,280.52 L410.49,280.52 L410.77,280.52 L411.05,280.52 L411.34,280.51 L411.62,280.51 L411.91,280.51 L412.19,280.51 L412.48,280.50 L412.76,280.50 L413.05,280.50 L413.33,280.50 L413.61,280.49 L413.90,280.49 L414.18,280.49 L414.47,280.49 L414.75,280.48 L415.04,280.48 L415.32,280.48 L415.61,280.48 L415.89,280.47 L416.17,280.47 L416.46,280.47 L416.74,280.47 L417.03,280.46 L417.31,280.46 L417.60,280.46 L417.88,280.46 L418.16,280.46 L418.45,280.45 L418.73,280.45 L419.02,280.45 L419.30,280.45 L419.59,280.44 L419.87,280.44 L420.16,280.44 L420.44,280.44 L420.72,280.43 L421.01,280.43 L421.29,280.43 L421.58,280.43 L421.86,280.43 L422.15,280.42 L422.43,280.42 L422.72,280.42 L423.00,280.42" fill="none" stroke="#d81830" stroke-width="1.8" stroke-dasharray="3.6 2.6" clip-path="url(#cb)"/>
<path d="M81.70,490.82 L81.98,490.81 L82.27,490.81 L82.55,490.81 L82.84,490.81 L83.12,490.81 L83.41,490.80 L83.69,490.80 L83.98,490.80 L84.26,490.80 L84.54,490.80 L84.83,490.79 L85.11,490.79 L85.40,490.79 L85.68,490.79 L85.97,490.78 L86.25,490.78 L86.54,490.78 L86.82,490.78 L87.10,490.78 L87.39,490.77 L87.67,490.77 L87.96,490.77 L88.24,490.77 L88.53,490.77 L88.81,490.76 L89.09,490.76 L89.38,490.76 L89.66,490.76 L89.95,490.75 L90.23,490.75 L90.52,490.75 L90.80,490.75 L91.09,490.75 L91.37,490.74 L91.65,490.74 L91.94,490.74 L92.22,490.74 L92.51,490.73 L92.79,490.73 L93.08,490.73 L93.36,490.73 L93.65,490.72 L93.93,490.72 L94.21,490.72 L94.50,490.72 L94.78,490.71 L95.07,490.71 L95.35,490.71 L95.64,490.71 L95.92,490.70 L96.21,490.70 L96.49,490.70 L96.77,490.70 L97.06,490.69 L97.34,490.69 L97.63,490.69 L97.91,490.69 L98.20,490.68 L98.48,490.68 L98.77,490.68 L99.05,490.68 L99.33,490.67 L99.62,490.67 L99.90,490.67 L100.19,490.66 L100.47,490.66 L100.76,490.66 L101.04,490.66 L101.32,490.65 L101.61,490.65 L101.89,490.65 L102.18,490.65 L102.46,490.64 L102.75,490.64 L103.03,490.64 L103.32,490.63 L103.60,490.63 L103.88,490.63 L104.17,490.62 L104.45,490.62 L104.74,490.62 L105.02,490.62 L105.31,490.61 L105.59,490.61 L105.88,490.61 L106.16,490.60 L106.44,490.60 L106.73,490.60 L107.01,490.59 L107.30,490.59 L107.58,490.59 L107.87,490.58 L108.15,490.58 L108.44,490.58 L108.72,490.57 L109.00,490.57 L109.29,490.57 L109.57,490.56 L109.86,490.56 L110.14,490.56 L110.43,490.55 L110.71,490.55 L110.99,490.55 L111.28,490.54 L111.56,490.54 L111.85,490.54 L112.13,490.53 L112.42,490.53 L112.70,490.53 L112.99,490.52 L113.27,490.52 L113.55,490.52 L113.84,490.51 L114.12,490.51 L114.41,490.51 L114.69,490.50 L114.98,490.50 L115.26,490.49 L115.55,490.49 L115.83,490.49 L116.11,490.48 L116.40,490.48 L116.68,490.48 L116.97,490.47 L117.25,490.47 L117.54,490.46 L117.82,490.46 L118.11,490.46 L118.39,490.45 L118.67,490.45 L118.96,490.44 L119.24,490.44 L119.53,490.44 L119.81,490.43 L120.10,490.43 L120.38,490.42 L120.67,490.42 L120.95,490.41 L121.23,490.41 L121.52,490.41 L121.80,490.40 L122.09,490.40 L122.37,490.39 L122.66,490.39 L122.94,490.38 L123.22,490.38 L123.51,490.38 L123.79,490.37 L124.08,490.37 L124.36,490.36 L124.65,490.36 L124.93,490.35 L125.22,490.35 L125.50,490.34 L125.78,490.34 L126.07,490.33 L126.35,490.33 L126.64,490.32 L126.92,490.32 L127.21,490.31 L127.49,490.31 L127.78,490.30 L128.06,490.30 L128.34,490.29 L128.63,490.29 L128.91,490.28 L129.20,490.28 L129.48,490.27 L129.77,490.27 L130.05,490.26 L130.34,490.26 L130.62,490.25 L130.90,490.25 L131.19,490.24 L131.47,490.24 L131.76,490.23 L132.04,490.23 L132.33,490.22 L132.61,490.21 L132.90,490.21 L133.18,490.20 L133.46,490.20 L133.75,490.19 L134.03,490.19 L134.32,490.18 L134.60,490.17 L134.89,490.17 L135.17,490.16 L135.45,490.16 L135.74,490.15 L136.02,490.14 L136.31,490.14 L136.59,490.13 L136.88,490.12 L137.16,490.12 L137.45,490.11 L137.73,490.11 L138.01,490.10 L138.30,490.09 L138.58,490.09 L138.87,490.08 L139.15,490.07 L139.44,490.07 L139.72,490.06 L140.01,490.05 L140.29,490.05 L140.57,490.04 L140.86,490.03 L141.14,490.03 L141.43,490.02 L141.71,490.01 L142.00,490.00 L142.28,490.00 L142.57,489.99 L142.85,489.98 L143.13,489.98 L143.42,489.97 L143.70,489.96 L143.99,489.95 L144.27,489.95 L144.56,489.94 L144.84,489.93 L145.12,489.92 L145.41,489.91 L145.69,489.91 L145.98,489.90 L146.26,489.89 L146.55,489.88 L146.83,489.87 L147.12,489.87 L147.40,489.86 L147.68,489.85 L147.97,489.84 L148.25,489.83 L148.54,489.82 L148.82,489.82 L149.11,489.81 L149.39,489.80 L149.68,489.79 L149.96,489.78 L150.24,489.77 L150.53,489.76 L150.81,489.75 L151.10,489.74 L151.38,489.73 L151.67,489.72 L151.95,489.72 L152.24,489.71 L152.52,489.70 L152.80,489.69 L153.09,489.68 L153.37,489.67 L153.66,489.66 L153.94,489.65 L154.23,489.64 L154.51,489.63 L154.80,489.62 L155.08,489.61 L155.36,489.60 L155.65,489.58 L155.93,489.57 L156.22,489.56 L156.50,489.55 L156.79,489.54 L157.07,489.53 L157.35,489.52 L157.64,489.51 L157.92,489.50 L158.21,489.49 L158.49,489.47 L158.78,489.46 L159.06,489.45 L159.35,489.44 L159.63,489.43 L159.91,489.41 L160.20,489.40 L160.48,489.39 L160.77,489.38 L161.05,489.37 L161.34,489.35 L161.62,489.34 L161.91,489.33 L162.19,489.31 L162.47,489.30 L162.76,489.29 L163.04,489.27 L163.33,489.26 L163.61,489.25 L163.90,489.23 L164.18,489.22 L164.47,489.21 L164.75,489.19 L165.03,489.18 L165.32,489.16 L165.60,489.15 L165.89,489.13 L166.17,489.12 L166.46,489.10 L166.74,489.09 L167.03,489.07 L167.31,489.06 L167.59,489.04 L167.88,489.03 L168.16,489.01 L168.45,488.99 L168.73,488.98 L169.02,488.96 L169.30,488.94 L169.58,488.93 L169.87,488.91 L170.15,488.89 L170.44,488.88 L170.72,488.86 L171.01,488.84 L171.29,488.82 L171.58,488.81 L171.86,488.79 L172.14,488.77 L172.43,488.75 L172.71,488.73 L173.00,488.71 L173.28,488.69 L173.57,488.67 L173.85,488.65 L174.14,488.63 L174.42,488.61 L174.70,488.59 L174.99,488.57 L175.27,488.55 L175.56,488.53 L175.84,488.51 L176.13,488.49 L176.41,488.47 L176.70,488.45 L176.98,488.42 L177.26,488.40 L177.55,488.38 L177.83,488.36 L178.12,488.33 L178.40,488.31 L178.69,488.29 L178.97,488.26 L179.25,488.24 L179.54,488.21 L179.82,488.19 L180.11,488.16 L180.39,488.14 L180.68,488.11 L180.96,488.09 L181.25,488.06 L181.53,488.03 L181.81,488.01 L182.10,487.98 L182.38,487.95 L182.67,487.92 L182.95,487.90 L183.24,487.87 L183.52,487.84 L183.81,487.81 L184.09,487.78 L184.37,487.75 L184.66,487.72 L184.94,487.69 L185.23,487.66 L185.51,487.63 L185.80,487.59 L186.08,487.56 L186.37,487.53 L186.65,487.50 L186.93,487.46 L187.22,487.43 L187.50,487.39 L187.79,487.36 L188.07,487.32 L188.36,487.29 L188.64,487.25 L188.93,487.22 L189.21,487.18 L189.49,487.14 L189.78,487.10 L190.06,487.06 L190.35,487.02 L190.63,486.98 L190.92,486.94 L191.20,486.90 L191.48,486.86 L191.77,486.82 L192.05,486.78 L192.34,486.73 L192.62,486.69 L192.91,486.65 L193.19,486.60 L193.48,486.56 L193.76,486.51 L194.04,486.46 L194.33,486.41 L194.61,486.37 L194.90,486.32 L195.18,486.27 L195.47,486.22 L195.75,486.17 L196.04,486.11 L196.32,486.06 L196.60,486.01 L196.89,485.95 L197.17,485.90 L197.46,485.84 L197.74,485.79 L198.03,485.73 L198.31,485.67 L198.60,485.61 L198.88,485.55 L199.16,485.49 L199.45,485.43 L199.73,485.36 L200.02,485.30 L200.30,485.23 L200.59,485.17 L200.87,485.10 L201.16,485.03 L201.44,484.96 L201.72,484.89 L202.01,484.82 L202.29,484.75 L202.58,484.67 L202.86,484.60 L203.15,484.52 L203.43,484.44 L203.71,484.36 L204.00,484.28 L204.28,484.20 L204.57,484.11 L204.85,484.03 L205.14,483.94 L205.42,483.85 L205.71,483.77 L205.99,483.67 L206.27,483.58 L206.56,483.49 L206.84,483.39 L207.13,483.29 L207.41,483.19 L207.70,483.09 L207.98,482.99 L208.27,482.88 L208.55,482.78 L208.83,482.67 L209.12,482.56 L209.40,482.44 L209.69,482.33 L209.97,482.21 L210.26,482.09 L210.54,481.97 L210.83,481.84 L211.11,481.72 L211.39,481.59 L211.68,481.45 L211.96,481.32 L212.25,481.18 L212.53,481.04 L212.82,480.90 L213.10,480.75 L213.38,480.60 L213.67,480.45 L213.95,480.29 L214.24,480.13 L214.52,479.97 L214.81,479.81 L215.09,479.64 L215.38,479.46 L215.66,479.29 L215.94,479.11 L216.23,478.92 L216.51,478.73 L216.80,478.54 L217.08,478.34 L217.37,478.14 L217.65,477.94 L217.94,477.73 L218.22,477.51 L218.50,477.29 L218.79,477.06 L219.07,476.83 L219.36,476.60 L219.64,476.35 L219.93,476.10 L220.21,475.85 L220.50,475.59 L220.78,475.32 L221.06,475.05 L221.35,474.77 L221.63,474.48 L221.92,474.19 L222.20,473.88 L222.49,473.57 L222.77,473.26 L223.06,472.93 L223.34,472.59 L223.62,472.25 L223.91,471.90 L224.19,471.53 L224.48,471.16 L224.76,470.78 L225.05,470.38 L225.33,469.98 L225.61,469.56 L225.90,469.14 L226.18,468.70 L226.47,468.24 L226.75,467.78 L227.04,467.30 L227.32,466.81 L227.61,466.30 L227.89,465.78 L228.17,465.24 L228.46,464.68 L228.74,464.11 L229.03,463.52 L229.31,462.92 L229.60,462.29 L229.88,461.64 L230.17,460.98 L230.45,460.29 L230.73,459.58 L231.02,458.84 L231.30,458.09 L231.59,457.30 L231.87,456.50 L232.16,455.66 L232.44,454.80 L232.73,453.90 L233.01,452.98 L233.29,452.02 L233.58,451.03 L233.86,450.01 L234.15,448.95 L234.43,447.85 L234.72,446.71 L235.00,445.54 L235.29,444.31 L235.57,443.05 L235.85,441.74 L236.14,440.38 L236.42,438.97 L236.71,437.50 L236.99,435.98 L237.28,434.41 L237.56,432.77 L237.84,431.08 L238.13,429.31 L238.41,427.49 L238.70,425.59 L238.98,423.62 L239.27,421.57 L239.55,419.45 L239.84,417.24 L240.12,414.95 L240.40,412.57 L240.69,410.11 L240.97,407.55 L241.26,404.90 L241.54,402.14 L241.83,399.29 L242.11,396.34 L242.40,393.28 L242.68,390.12 L242.96,386.85 L243.25,383.47 L243.53,379.98 L243.82,376.39 L244.10,372.69 L244.39,368.89 L244.67,364.98 L244.96,360.99 L245.24,356.90 L245.52,352.73 L245.81,348.49 L246.09,344.19 L246.38,339.84 L246.66,335.46 L246.95,331.06 L247.23,326.66 L247.51,322.28 L247.80,317.96 L248.08,313.70 L248.37,309.55 L248.65,305.52 L248.94,301.66 L249.22,297.98 L249.51,294.53 L249.79,291.34 L250.07,288.43 L250.36,285.83 L250.64,283.58 L250.93,281.70 L251.21,280.21 L251.50,279.12 L251.78,278.50 L252.07,278.50 L252.35,278.50 L252.63,278.95 L252.92,279.89 L253.20,281.20 L253.49,282.88 L253.77,284.89 L254.06,287.22 L254.34,289.85 L254.63,292.76 L254.91,295.91 L255.19,299.27 L255.48,302.83 L255.76,306.55 L256.05,310.41 L256.33,314.38 L256.62,318.43 L256.90,322.55 L257.19,326.71 L257.47,330.88 L257.75,335.06 L258.04,339.23 L258.32,343.36 L258.61,347.45 L258.89,351.49 L259.18,355.46 L259.46,359.36 L259.74,363.19 L260.03,366.92 L260.31,370.57 L260.60,374.13 L260.88,377.59 L261.17,380.96 L261.45,384.22 L261.74,387.39 L262.02,390.47 L262.30,393.44 L262.59,396.32 L262.87,399.11 L263.16,401.80 L263.44,404.41 L263.73,406.92 L264.01,409.35 L264.30,411.69 L264.58,413.95 L264.86,416.14 L265.15,418.24 L265.43,420.28 L265.72,422.24 L266.00,424.13 L266.29,425.95 L266.57,427.71 L266.86,429.41 L267.14,431.05 L267.42,432.63 L267.71,434.16 L267.99,435.63 L268.28,437.05 L268.56,438.43 L268.85,439.75 L269.13,441.03 L269.42,442.27 L269.70,443.46 L269.98,444.62 L270.27,445.73 L270.55,446.81 L270.84,447.85 L271.12,448.86 L271.41,449.84 L271.69,450.78 L271.97,451.69 L272.26,452.58 L272.54,453.43 L272.83,454.26 L273.11,455.06 L273.40,455.84 L273.68,456.59 L273.97,457.32 L274.25,458.03 L274.53,458.72 L274.82,459.38 L275.10,460.03 L275.39,460.66 L275.67,461.26 L275.96,461.85 L276.24,462.43 L276.53,462.98 L276.81,463.53 L277.09,464.05 L277.38,464.56 L277.66,465.06 L277.95,465.54 L278.23,466.01 L278.52,466.47 L278.80,466.91 L279.09,467.34 L279.37,467.76 L279.65,468.17 L279.94,468.57 L280.22,468.96 L280.51,469.34 L280.79,469.71 L281.08,470.07 L281.36,470.42 L281.64,470.76 L281.93,471.09 L282.21,471.41 L282.50,471.73 L282.78,472.04 L283.07,472.34 L283.35,472.64 L283.64,472.92 L283.92,473.20 L284.20,473.48 L284.49,473.74 L284.77,474.00 L285.06,474.26 L285.34,474.51 L285.63,474.75 L285.91,474.99 L286.20,475.22 L286.48,475.45 L286.76,475.67 L287.05,475.89 L287.33,476.10 L287.62,476.31 L287.90,476.51 L288.19,476.71 L288.47,476.90 L288.76,477.10 L289.04,477.28 L289.32,477.46 L289.61,477.64 L289.89,477.82 L290.18,477.99 L290.46,478.16 L290.75,478.32 L291.03,478.48 L291.32,478.64 L291.60,478.80 L291.88,478.95 L292.17,479.10 L292.45,479.25 L292.74,479.39 L293.02,479.53 L293.31,479.67 L293.59,479.80 L293.87,479.93 L294.16,480.06 L294.44,480.19 L294.73,480.32 L295.01,480.44 L295.30,480.56 L295.58,480.68 L295.87,480.80 L296.15,480.91 L296.43,481.02 L296.72,481.13 L297.00,481.24 L297.29,481.35 L297.57,481.45 L297.86,481.55 L298.14,481.66 L298.43,481.75 L298.71,481.85 L298.99,481.95 L299.28,482.04 L299.56,482.13 L299.85,482.23 L300.13,482.32 L300.42,482.40 L300.70,482.49 L300.99,482.57 L301.27,482.66 L301.55,482.74 L301.84,482.82 L302.12,482.90 L302.41,482.98 L302.69,483.06 L302.98,483.13 L303.26,483.21 L303.55,483.28 L303.83,483.35 L304.11,483.42 L304.40,483.49 L304.68,483.56 L304.97,483.63 L305.25,483.70 L305.54,483.76 L305.82,483.83 L306.10,483.89 L306.39,483.96 L306.67,484.02 L306.96,484.08 L307.24,484.14 L307.53,484.20 L307.81,484.26 L308.10,484.32 L308.38,484.37 L308.66,484.43 L308.95,484.48 L309.23,484.54 L309.52,484.59 L309.80,484.64 L310.09,484.70 L310.37,484.75 L310.66,484.80 L310.94,484.85 L311.22,484.90 L311.51,484.95 L311.79,484.99 L312.08,485.04 L312.36,485.09 L312.65,485.13 L312.93,485.18 L313.22,485.22 L313.50,485.27 L313.78,485.31 L314.07,485.35 L314.35,485.40 L314.64,485.44 L314.92,485.48 L315.21,485.52 L315.49,485.56 L315.77,485.60 L316.06,485.64 L316.34,485.68 L316.63,485.72 L316.91,485.75 L317.20,485.79 L317.48,485.83 L317.77,485.87 L318.05,485.90 L318.33,485.94 L318.62,485.97 L318.90,486.01 L319.19,486.04 L319.47,486.07 L319.76,486.11 L320.04,486.14 L320.33,486.17 L320.61,486.20 L320.89,486.24 L321.18,486.27 L321.46,486.30 L321.75,486.33 L322.03,486.36 L322.32,486.39 L322.60,486.42 L322.89,486.45 L323.17,486.48 L323.45,486.50 L323.74,486.53 L324.02,486.56 L324.31,486.59 L324.59,486.62 L324.88,486.64 L325.16,486.67 L325.45,486.70 L325.73,486.72 L326.01,486.75 L326.30,486.77 L326.58,486.80 L326.87,486.82 L327.15,486.85 L327.44,486.87 L327.72,486.90 L328.00,486.92 L328.29,486.94 L328.57,486.97 L328.86,486.99 L329.14,487.01 L329.43,487.03 L329.71,487.06 L330.00,487.08 L330.28,487.10 L330.56,487.12 L330.85,487.14 L331.13,487.16 L331.42,487.18 L331.70,487.21 L331.99,487.23 L332.27,487.25 L332.56,487.27 L332.84,487.29 L333.12,487.31 L333.41,487.32 L333.69,487.34 L333.98,487.36 L334.26,487.38 L334.55,487.40 L334.83,487.42 L335.12,487.44 L335.40,487.46 L335.68,487.47 L335.97,487.49 L336.25,487.51 L336.54,487.53 L336.82,487.54 L337.11,487.56 L337.39,487.58 L337.68,487.59 L337.96,487.61 L338.24,487.63 L338.53,487.64 L338.81,487.66 L339.10,487.67 L339.38,487.69 L339.67,487.71 L339.95,487.72 L340.23,487.74 L340.52,487.75 L340.80,487.77 L341.09,487.78 L341.37,487.80 L341.66,487.81 L341.94,487.83 L342.23,487.84 L342.51,487.85 L342.79,487.87 L343.08,487.88 L343.36,487.90 L343.65,487.91 L343.93,487.92 L344.22,487.94 L344.50,487.95 L344.79,487.96 L345.07,487.98 L345.35,487.99 L345.64,488.00 L345.92,488.01 L346.21,488.03 L346.49,488.04 L346.78,488.05 L347.06,488.06 L347.35,488.08 L347.63,488.09 L347.91,488.10 L348.20,488.11 L348.48,488.12 L348.77,488.14 L349.05,488.15 L349.34,488.16 L349.62,488.17 L349.90,488.18 L350.19,488.19 L350.47,488.20 L350.76,488.21 L351.04,488.22 L351.33,488.24 L351.61,488.25 L351.90,488.26 L352.18,488.27 L352.46,488.28 L352.75,488.29 L353.03,488.30 L353.32,488.31 L353.60,488.32 L353.89,488.33 L354.17,488.34 L354.46,488.35 L354.74,488.36 L355.02,488.37 L355.31,488.38 L355.59,488.39 L355.88,488.40 L356.16,488.41 L356.45,488.41 L356.73,488.42 L357.02,488.43 L357.30,488.44 L357.58,488.45 L357.87,488.46 L358.15,488.47 L358.44,488.48 L358.72,488.49 L359.01,488.49 L359.29,488.50 L359.58,488.51 L359.86,488.52 L360.14,488.53 L360.43,488.54 L360.71,488.55 L361.00,488.55 L361.28,488.56 L361.57,488.57 L361.85,488.58 L362.13,488.59 L362.42,488.59 L362.70,488.60 L362.99,488.61 L363.27,488.62 L363.56,488.62 L363.84,488.63 L364.13,488.64 L364.41,488.65 L364.69,488.65 L364.98,488.66 L365.26,488.67 L365.55,488.68 L365.83,488.68 L366.12,488.69 L366.40,488.70 L366.69,488.70 L366.97,488.71 L367.25,488.72 L367.54,488.73 L367.82,488.73 L368.11,488.74 L368.39,488.75 L368.68,488.75 L368.96,488.76 L369.25,488.77 L369.53,488.77 L369.81,488.78 L370.10,488.78 L370.38,488.79 L370.67,488.80 L370.95,488.80 L371.24,488.81 L371.52,488.82 L371.81,488.82 L372.09,488.83 L372.37,488.83 L372.66,488.84 L372.94,488.85 L373.23,488.85 L373.51,488.86 L373.80,488.86 L374.08,488.87 L374.36,488.88 L374.65,488.88 L374.93,488.89 L375.22,488.89 L375.50,488.90 L375.79,488.90 L376.07,488.91 L376.36,488.92 L376.64,488.92 L376.92,488.93 L377.21,488.93 L377.49,488.94 L377.78,488.94 L378.06,488.95 L378.35,488.95 L378.63,488.96 L378.92,488.96 L379.20,488.97 L379.48,488.97 L379.77,488.98 L380.05,488.98 L380.34,488.99 L380.62,488.99 L380.91,489.00 L381.19,489.00 L381.48,489.01 L381.76,489.01 L382.04,489.02 L382.33,489.02 L382.61,489.03 L382.90,489.03 L383.18,489.04 L383.47,489.04 L383.75,489.05 L384.03,489.05 L384.32,489.06 L384.60,489.06 L384.89,489.06 L385.17,489.07 L385.46,489.07 L385.74,489.08 L386.03,489.08 L386.31,489.09 L386.59,489.09 L386.88,489.10 L387.16,489.10 L387.45,489.10 L387.73,489.11 L388.02,489.11 L388.30,489.12 L388.59,489.12 L388.87,489.13 L389.15,489.13 L389.44,489.13 L389.72,489.14 L390.01,489.14 L390.29,489.15 L390.58,489.15 L390.86,489.15 L391.15,489.16 L391.43,489.16 L391.71,489.17 L392.00,489.17 L392.28,489.17 L392.57,489.18 L392.85,489.18 L393.14,489.18 L393.42,489.19 L393.71,489.19 L393.99,489.20 L394.27,489.20 L394.56,489.20 L394.84,489.21 L395.13,489.21 L395.41,489.21 L395.70,489.22 L395.98,489.22 L396.26,489.22 L396.55,489.23 L396.83,489.23 L397.12,489.23 L397.40,489.24 L397.69,489.24 L397.97,489.25 L398.26,489.25 L398.54,489.25 L398.82,489.26 L399.11,489.26 L399.39,489.26 L399.68,489.27 L399.96,489.27 L400.25,489.27 L400.53,489.27 L400.82,489.28 L401.10,489.28 L401.38,489.28 L401.67,489.29 L401.95,489.29 L402.24,489.29 L402.52,489.30 L402.81,489.30 L403.09,489.30 L403.38,489.31 L403.66,489.31 L403.94,489.31 L404.23,489.32 L404.51,489.32 L404.80,489.32 L405.08,489.32 L405.37,489.33 L405.65,489.33 L405.94,489.33 L406.22,489.34 L406.50,489.34 L406.79,489.34 L407.07,489.34 L407.36,489.35 L407.64,489.35 L407.93,489.35 L408.21,489.36 L408.49,489.36 L408.78,489.36 L409.06,489.36 L409.35,489.37 L409.63,489.37 L409.92,489.37 L410.20,489.38 L410.49,489.38 L410.77,489.38 L411.05,489.38 L411.34,489.39 L411.62,489.39 L411.91,489.39 L412.19,489.39 L412.48,489.40 L412.76,489.40 L413.05,489.40 L413.33,489.40 L413.61,489.41 L413.90,489.41 L414.18,489.41 L414.47,489.41 L414.75,489.42 L415.04,489.42 L415.32,489.42 L415.61,489.42 L415.89,489.43 L416.17,489.43 L416.46,489.43 L416.74,489.43 L417.03,489.44 L417.31,489.44 L417.60,489.44 L417.88,489.44 L418.16,489.44 L418.45,489.45 L418.73,489.45 L419.02,489.45 L419.30,489.45 L419.59,489.46 L419.87,489.46 L420.16,489.46 L420.44,489.46 L420.72,489.47 L421.01,489.47 L421.29,489.47 L421.58,489.47 L421.86,489.47 L422.15,489.48 L422.43,489.48 L422.72,489.48 L423.00,489.48" fill="none" stroke="#1a149e" stroke-width="1.8" clip-path="url(#cb)"/>
<rect x="81.7" y="267.9" width="341.3" height="233.9" fill="none" stroke="#04711d" stroke-width="1.8"/>
<line x1="167.03" y1="501.6" x2="167.03" y2="497.4" stroke="#04711d" stroke-width="1.5"/>
<line x1="167.03" y1="267.8" x2="167.03" y2="272.2" stroke="#04711d" stroke-width="1.5"/>
<line x1="252.35" y1="501.6" x2="252.35" y2="497.4" stroke="#04711d" stroke-width="1.5"/>
<line x1="252.35" y1="267.8" x2="252.35" y2="272.2" stroke="#04711d" stroke-width="1.5"/>
<line x1="337.68" y1="501.6" x2="337.68" y2="497.4" stroke="#04711d" stroke-width="1.5"/>
<line x1="337.68" y1="267.8" x2="337.68" y2="272.2" stroke="#04711d" stroke-width="1.5"/>
<line x1="81.7" y1="491.40" x2="86" y2="491.40" stroke="#04711d" stroke-width="1.5"/>
<line x1="423" y1="491.40" x2="418.8" y2="491.40" stroke="#04711d" stroke-width="1.5"/>
<line x1="81.7" y1="448.82" x2="86" y2="448.82" stroke="#04711d" stroke-width="1.5"/>
<line x1="423" y1="448.82" x2="418.8" y2="448.82" stroke="#04711d" stroke-width="1.5"/>
<line x1="81.7" y1="406.24" x2="86" y2="406.24" stroke="#04711d" stroke-width="1.5"/>
<line x1="423" y1="406.24" x2="418.8" y2="406.24" stroke="#04711d" stroke-width="1.5"/>
<line x1="81.7" y1="363.66" x2="86" y2="363.66" stroke="#04711d" stroke-width="1.5"/>
<line x1="423" y1="363.66" x2="418.8" y2="363.66" stroke="#04711d" stroke-width="1.5"/>
<line x1="81.7" y1="321.08" x2="86" y2="321.08" stroke="#04711d" stroke-width="1.5"/>
<line x1="423" y1="321.08" x2="418.8" y2="321.08" stroke="#04711d" stroke-width="1.5"/>
<line x1="81.7" y1="278.50" x2="86" y2="278.50" stroke="#04711d" stroke-width="1.5"/>
<line x1="423" y1="278.50" x2="418.8" y2="278.50" stroke="#04711d" stroke-width="1.5"/>
<text x="76.3" y="497.00" font-size="16.5" fill="#057a22" color="#057a22" text-anchor="end">0.0</text>
<text x="76.3" y="454.42" font-size="16.5" fill="#057a22" color="#057a22" text-anchor="end">0.2</text>
<text x="76.3" y="411.84" font-size="16.5" fill="#057a22" color="#057a22" text-anchor="end">0.4</text>
<text x="76.3" y="369.26" font-size="16.5" fill="#057a22" color="#057a22" text-anchor="end">0.6</text>
<text x="76.3" y="326.68" font-size="16.5" fill="#057a22" color="#057a22" text-anchor="end">0.8</text>
<text x="76.3" y="284.10" font-size="16.5" fill="#057a22" color="#057a22" text-anchor="end">1.0</text>
<text x="81.70" y="519.9" font-size="16.5" fill="#057a22" color="#057a22" text-anchor="middle">1500</text>
<text x="167.03" y="519.9" font-size="16.5" fill="#057a22" color="#057a22" text-anchor="middle">1525</text>
<text x="252.35" y="519.9" font-size="16.5" fill="#057a22" color="#057a22" text-anchor="middle">1550</text>
<text x="337.68" y="519.9" font-size="16.5" fill="#057a22" color="#057a22" text-anchor="middle">1575</text>
<text x="423.00" y="519.9" font-size="16.5" fill="#057a22" color="#057a22" text-anchor="middle">1600</text>
<text x="252.3" y="538.2" font-size="16.9" fill="#057a22" color="#057a22" text-anchor="middle">Wavelength (nm)</text>
<text transform="translate(46.3,385.4) rotate(-90)" font-size="16.7" fill="#057a22" color="#057a22" text-anchor="middle">Absorptance &amp; Reflectance</text>
<line x1="104.7" y1="318.7" x2="128.1" y2="318.7" stroke="#1a149e" stroke-width="1.9"/>
<line x1="104.7" y1="339.1" x2="128.1" y2="339.1" stroke="#d81830" stroke-width="1.9" stroke-dasharray="4.5 1.9"/>
<text x="131.7" y="322.9" font-size="16.3" fill="#1a1ac4" color="#1a1ac4">Absorptance</text>
<text x="131.7" y="342.8" font-size="16.3" fill="#f00808" color="#f00808">Reflectance</text>
</svg></body></html>
